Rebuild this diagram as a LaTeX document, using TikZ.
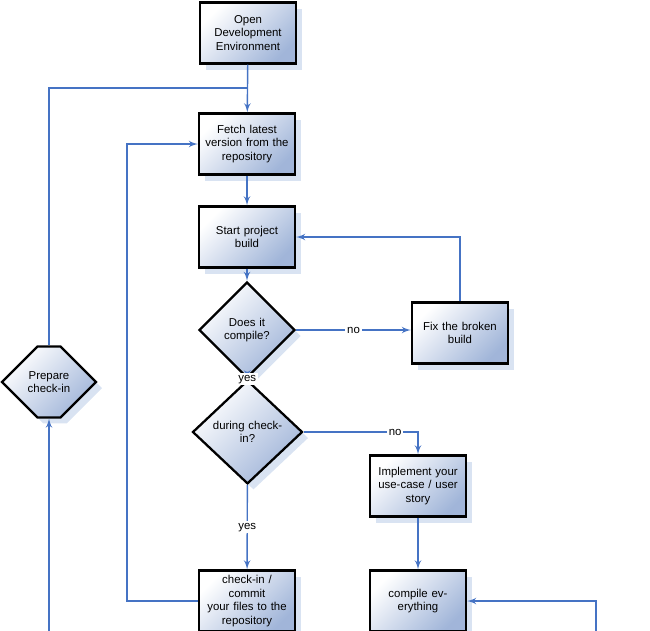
\documentclass[tikz,border=0pt]{standalone}
\usepackage{fontspec}
\setmainfont{Liberation Sans}
\usetikzlibrary{shapes,shapes.geometric,shapes.misc,shadows,arrows}
\definecolor{flowline}{rgb}{0.27,0.45,0.77}
\definecolor{flowdark}{rgb}{0.63,0.71,0.85}
\definecolor{flowshadow}{rgb}{0.85,0.89,0.95}
\tikzset{flowbase/.style={draw=black, line width=1.3pt, shading=axis, top color=white, bottom color=flowdark, shading angle=45,
    general shadow={fill=flowshadow, shadow xshift=0.12cm, shadow yshift=-0.12cm},
    font=\fontsize{6.5}{7.6}\selectfont, align=center, inner sep=1pt}}
\tikzstyle{flowstep}=[flowbase, rectangle, minimum width=1.92cm, minimum height=1.22cm, text width=1.8cm]
\tikzstyle{flowtest}=[flowbase, diamond, minimum width=1.92cm, minimum height=1.4cm, text width=1.3cm]
\tikzstyle{flowprep}=[flowbase, chamfered rectangle, chamfered rectangle xsep=0.3cm, chamfered rectangle ysep=0.64cm, minimum width=1.88cm, minimum height=1.28cm]
\tikzstyle{flowlink}=[draw=flowline, line width=0.8pt]
\tikzstyle{flowlabel}=[fill=white, inner sep=1pt, font=\fontsize{6.5}{7.6}\selectfont]

\begin{document}
\begin{tikzpicture}[>=latex']
\clip (0,0) rectangle (13,-12.6);
\useasboundingbox (0,0) rectangle (13,-12.6);
\node[flowstep] (open) at (4.96,-0.66) {Open\\Development\\Environment};
\node[flowstep] (fetch) at (4.94,-2.88) {Fetch latest\\version from the\\repository};
\node[flowstep] (build) at (4.94,-4.74) {Start project build};
\node[flowtest] (compiles) at (4.94,-6.6) {Does it\\compile?};
\node[flowstep] (fix) at (9.2,-6.66) {Fix the broken\\build};
\node[flowtest, minimum width=2.2cm, minimum height=1.24cm, text width=1.5cm] (during) at (4.95,-8.64) {during check-\\in?};
\node[flowstep] (implement) at (8.36,-9.72) {Implement your\\use-case / user\\story};
\node[flowstep] (checkin) at (4.94,-12.02) {check-in / commit\\your files to the\\repository};
\node[flowstep] (compileall) at (8.36,-12.02) {compile everything};
\node[flowprep] (prepare) at (0.98,-7.64) {Prepare\\check-in};
\coordinate (joint) at (4.94,-1.76);
\coordinate (left) at (2.54,-2.88);
\coordinate (bottomleft) at (0.98,-12.7);
\coordinate (bottomright) at (11.92,-12.7);
\path[flowlink, ->] (open) -- (fetch);
\path[flowlink] (prepare.north) |- (joint);
\path[flowlink, ->] (fetch) -- (build);
\path[flowlink, ->] (build) -- (compiles);
\path[flowlink, ->] (compiles) -- node[flowlabel] {no} (fix.west |- compiles);
\path[flowlink, ->] (fix.north) |- (build.east);
\path[flowlink, ->] (compiles) -- node[flowlabel] {yes} (during);
\path[flowlink, ->] (during) -| node[flowlabel, pos=0.4] {no} (implement);
\path[flowlink, ->] (during) -- node[flowlabel] {yes} (checkin);
\path[flowlink, ->] (implement) -- (compileall);
\path[flowlink, ->] (checkin.west) -| (left) -- (fetch.west);
\path[flowlink, ->] (bottomright) |- (compileall.east);
\path[flowlink, ->] (bottomleft) -- (prepare.south);
\end{tikzpicture}
\end{document}
